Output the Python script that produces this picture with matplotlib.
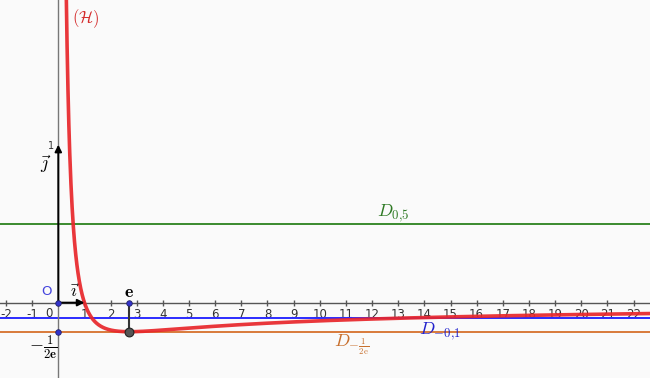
import numpy as np
import matplotlib
matplotlib.use("Agg")
import matplotlib.pyplot as plt

plt.rcParams['mathtext.fontset'] = 'cm'

# ---- data ----
x_ticks = list(range(-2, 23))
x_tick_labels = ["" if t == 0 else str(t) for t in x_ticks]
y_tick = 1
h_levels = [0.5, -0.1, -1 / (2 * np.e)]
h_colors = ["#3a8a2e", "#2b2bff", "#d97a3a"]
h_label_colors = ["#2e7a24", "#2222cc", "#c8702e"]
h_labels = [r"$D_{0{,}5}$", r"$D_{-0{,}1}$", r"$D_{-\frac{1}{2\mathrm{e}}}$"]
h_label_pos = [(12.8, 0.565), (14.6, -0.178), (11.2, -0.265)]
e_val = np.e
ymin_val = -1 / (2 * np.e)

def f(x):
    return -np.log(x) / (2 * x)

xs = np.linspace(0.29, 23, 2000)
ys = f(xs)

fig = plt.figure(figsize=(6.5, 3.78), dpi=100)
fig.patch.set_facecolor("#fafafa")
ax = fig.add_axes([0, 0, 1, 1])
ax.set_facecolor("#fafafa")
ax.set_xlim(-2.23, 22.63)
ax.set_ylim(-0.477, 1.916)

for s in ["top", "right"]:
    ax.spines[s].set_visible(False)
ax.spines["bottom"].set_position(("data", 0))
ax.spines["left"].set_position(("data", 0))
ax.spines["bottom"].set_color("#555555")
ax.spines["left"].set_color("#777777")
ax.spines["bottom"].set_linewidth(1.0)
ax.spines["left"].set_linewidth(1.0)

ax.set_xticks(x_ticks)
ax.set_xticklabels(x_tick_labels)
ax.tick_params(axis="x", direction="inout", length=5, width=1, color="#555555",
               labelsize=8.5, labelcolor="#333333", pad=1.5)
ax.set_yticks([y_tick])
ax.set_yticklabels(["1"])
ax.tick_params(axis="y", direction="inout", length=0, labelsize=7, labelcolor="#333333", pad=3)
ax.text(-0.35, -0.03, "0", fontsize=8.5, color="#333333", ha="center", va="top")

# horizontal lines
for lvl, c in zip(h_levels, h_colors):
    ax.axhline(lvl, color=c, lw=1.4, zorder=2)
for (lx, ly), lab, c in zip(h_label_pos, h_labels, h_label_colors):
    ax.text(lx, ly, lab, color=c, fontsize=13, ha="center", va="center")

# curve
ax.plot(xs, ys, color="#e8262b", lw=2.6, zorder=4, alpha=0.92)
ax.text(1.05, 1.80, r"$(\mathcal{H})$", color="#d42a2a", fontsize=12, ha="center", va="center")

# vectors
ax.annotate("", xy=(1, 0), xytext=(0, 0),
            arrowprops=dict(arrowstyle="-|>", color="black", lw=1.4, mutation_scale=10, shrinkA=0, shrinkB=0), zorder=5)
ax.annotate("", xy=(0, 1), xytext=(0, 0),
            arrowprops=dict(arrowstyle="-|>", color="black", lw=1.4, mutation_scale=10, shrinkA=0, shrinkB=0), zorder=5)
ax.text(0.63, 0.065, r"$\vec{\imath}$", fontsize=13, ha="center", va="center")
ax.text(-0.5, 0.88, r"$\vec{\jmath}$", fontsize=13, ha="center", va="center")

# segment and points
ax.plot([e_val, e_val], [0, ymin_val], color="#333333", lw=1.5, zorder=5)
ax.scatter([0, 0, e_val], [0, ymin_val, 0], s=16, color="#3333cc", edgecolor="#222266", zorder=6, linewidths=0.6)
ax.scatter([e_val], [ymin_val], s=40, color="#555555", edgecolor="#222222", zorder=6, linewidths=0.8)

ax.text(e_val, 0.07, r"$\mathbf{e}$", fontsize=13, ha="center", va="center")
ax.text(-0.45, 0.068, "O", color="#4444dd", fontsize=9.5, ha="center", va="center")
ax.text(-0.6, -0.28, r"$-\frac{\mathbf{1}}{\mathbf{2e}}$", fontsize=13, ha="center", va="center")

fig.savefig("out.png", dpi=100, facecolor=fig.get_facecolor())
